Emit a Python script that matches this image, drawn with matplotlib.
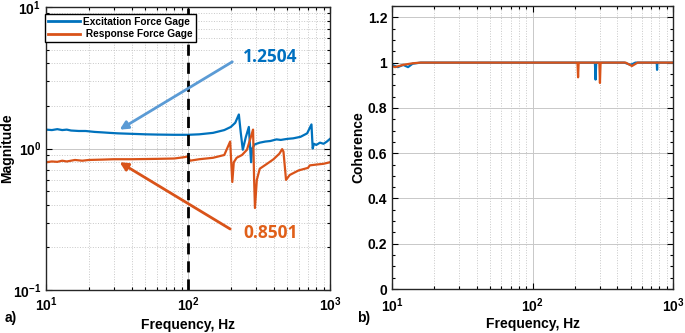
import matplotlib
matplotlib.use("Agg")
import matplotlib.pyplot as plt
from matplotlib.ticker import LogLocator, MultipleLocator, NullFormatter

plt.rcParams['font.family'] = ['Liberation Sans', 'DejaVu Sans']
plt.rcParams['font.weight'] = 'bold'
plt.rcParams['axes.labelweight'] = 'bold'
plt.rcParams['axes.unicode_minus'] = False

# ---------------- data ----------------
exc_freq = [10, 11, 12, 13, 14, 15, 17, 19, 22, 25, 28, 32, 40, 50, 60, 80, 100,
            120, 150, 180, 200, 215, 228, 235, 243, 255, 268, 274, 278, 283, 295,
            320, 350, 380, 420, 450, 500, 550, 620, 690, 740, 755, 770, 800, 850,
            900, 950, 1000]
exc_mag = [1.36, 1.35, 1.37, 1.35, 1.36, 1.34, 1.33, 1.33, 1.31, 1.30, 1.29, 1.28,
           1.27, 1.26, 1.255, 1.25, 1.25, 1.26, 1.29, 1.35, 1.42, 1.52, 1.74, 1.30,
           0.98, 1.20, 1.42, 1.00, 0.80, 1.00, 1.07, 1.10, 1.12, 1.13, 1.16, 1.15,
           1.17, 1.18, 1.21, 1.28, 1.48, 1.00, 1.08, 1.06, 1.10, 1.08, 1.12, 1.17]

resp_freq = [10, 11, 12, 13, 14, 16, 18, 20, 25, 30, 40, 60, 80, 95, 100, 103, 120,
             150, 180, 198, 205, 210, 220, 240, 260, 280, 287, 292, 296, 305, 320,
             360, 400, 440, 460, 470, 490, 520, 600, 700, 720, 800, 900, 1000]
resp_mag = [0.80, 0.81, 0.805, 0.82, 0.81, 0.83, 0.82, 0.83, 0.835, 0.84, 0.84,
            0.845, 0.85, 0.87, 0.88, 0.82, 0.84, 0.86, 0.90, 1.12, 0.58, 0.80, 0.86,
            0.90, 0.98, 1.25, 1.36, 0.60, 0.38, 0.60, 0.72, 0.78, 0.84, 0.92, 0.99,
            0.95, 0.60, 0.65, 0.70, 0.73, 0.76, 0.77, 0.78, 0.80]

coh_exc_freq = [10, 11, 12, 13, 14, 16, 20, 100, 270, 278, 281, 284, 290, 450, 500,
                540, 760, 766, 770, 774, 780, 1000]
coh_exc = [0.99, 0.98, 0.99, 0.98, 0.995, 1.0, 1.0, 1.0, 1.0, 1.0, 0.925, 1.0, 1.0,
           1.0, 0.99, 1.0, 1.0, 1.0, 0.968, 1.0, 1.0, 1.0]

coh_resp_freq = [10, 10.5, 12, 14, 16, 100, 207, 209, 211, 213, 216, 296, 299, 302,
                 305, 308, 460, 510, 560, 1000]
coh_resp = [0.985, 0.98, 0.99, 0.997, 1.0, 1.0, 1.0, 1.0, 0.935, 1.0, 1.0, 1.0, 1.0,
            0.91, 1.0, 1.0, 1.0, 0.985, 1.0, 1.0]

labels = ['Excitation Force Gage', ' Response Force Gage']
ann_values = ['1.2504', '0.8501']
marker_freq = 100

blue = '#0072BD'
orange = '#D95319'

fig = plt.figure(figsize=(6.85, 3.33), dpi=100)
ax1 = fig.add_axes([0.0672, 0.129, 0.4146, 0.850])
ax2 = fig.add_axes([0.5723, 0.132, 0.4102, 0.850])


def style_axes(ax):
    ax.tick_params(which='both', direction='in', top=True, right=True,
                   labelsize=10, width=0.8)
    ax.tick_params(which='major', length=4.5)
    ax.tick_params(which='minor', length=2.5)
    for s in ax.spines.values():
        s.set_linewidth(1.0)
        s.set_color('#262626')


# ---------------- left panel ----------------
ax1.set_xscale('log')
ax1.set_yscale('log')
ax1.grid(True, which='major', color='#c8c8c8', linestyle='-', linewidth=0.7)
ax1.grid(True, which='minor', color='#c8c8c8', linestyle=':', linewidth=0.7)
ax1.set_axisbelow(True)
l1, = ax1.plot(exc_freq, exc_mag, color=blue, lw=1.6)
l2, = ax1.plot(resp_freq, resp_mag, color=orange, lw=1.6)
ax1.axvline(marker_freq, color='black', lw=2, linestyle=(0, (4, 2.5)))
ax1.set_xlim(10, 1000)
ax1.set_ylim(0.1, 10)
ax1.yaxis.set_minor_locator(LogLocator(base=10, subs=range(2, 10)))
ax1.yaxis.set_minor_formatter(NullFormatter())
ax1.xaxis.set_minor_formatter(NullFormatter())
style_axes(ax1)
ax1.set_xlabel('Frequency, Hz', fontsize=10)
ax1.set_ylabel('Magnitude', fontsize=10)
ax1.xaxis.set_label_coords(0.5, -0.124)
ax1.xaxis.label.set_verticalalignment('center')
ax1.yaxis.set_label_coords(-0.136, 0.5)
ax1.yaxis.label.set_verticalalignment('center')
leg = ax1.legend([l1, l2], labels, loc='upper left', fontsize=7.3, frameon=True,
                 fancybox=False, edgecolor='black', framealpha=1,
                 bbox_to_anchor=(-0.005, 0.977), borderaxespad=0.0,
                 handlelength=3.2, handletextpad=0.3,
                 borderpad=0.3, labelspacing=0.25)
leg.get_frame().set_linewidth(1.0)
for lh in leg.get_lines():
    lh.set_linewidth(2.0)

ax1.annotate('', xy=(33, 1.36), xytext=(205, 4.1),
             arrowprops=dict(arrowstyle='-|>', color='#5B9BD5', lw=2,
                             mutation_scale=12, shrinkA=0, shrinkB=0))
ax1.annotate('', xy=(33, 0.80), xytext=(198, 0.27),
             arrowprops=dict(arrowstyle='-|>', color=orange, lw=2,
                             mutation_scale=12, shrinkA=0, shrinkB=0))
ax1.text(244, 4.45, ann_values[0], color='#0070C0', fontsize=12.5,
         fontweight='bold', family='Open Sans', va='center', ha='left')
ax1.text(244, 0.255, ann_values[1], color='#E0601A', fontsize=12.5,
         fontweight='bold', family='Open Sans', va='center', ha='left')

# ---------------- right panel ----------------
ax2.set_xscale('log')
ax2.grid(True, which='major', color='#c8c8c8', linestyle='-', linewidth=0.7)
ax2.grid(True, which='minor', axis='x', color='#c8c8c8', linestyle=':', linewidth=0.7)
ax2.set_axisbelow(True)
ax2.plot(coh_exc_freq, coh_exc, color=blue, lw=1.6)
ax2.plot(coh_resp_freq, coh_resp, color=orange, lw=1.6)
ax2.set_xlim(10, 1000)
ax2.set_ylim(0, 1.25)
ax2.yaxis.set_minor_locator(MultipleLocator(0.05))
ax2.set_yticks([0, 0.2, 0.4, 0.6, 0.8, 1.0, 1.2])
ax2.set_yticklabels(['0', '0.2', '0.4', '0.6', '0.8', '1', '1.2'])
ax2.xaxis.set_minor_formatter(NullFormatter())
style_axes(ax2)
ax2.tick_params(axis='x', which='major', pad=5)
ax2.set_xlabel('Frequency, Hz', fontsize=10)
ax2.set_ylabel('Coherence', fontsize=10)
ax2.xaxis.set_label_coords(0.5, -0.124)
ax2.xaxis.label.set_verticalalignment('center')
ax2.yaxis.set_label_coords(-0.121, 0.5)
ax2.yaxis.label.set_verticalalignment('center')

fig.text(5 / 685, 1 - 318 / 333, 'a)', fontsize=10, fontweight='bold', va='center')
fig.text(357 / 685, 1 - 318 / 333, 'b)', fontsize=10, fontweight='bold', va='center')

fig.savefig('out.png', dpi=100)
